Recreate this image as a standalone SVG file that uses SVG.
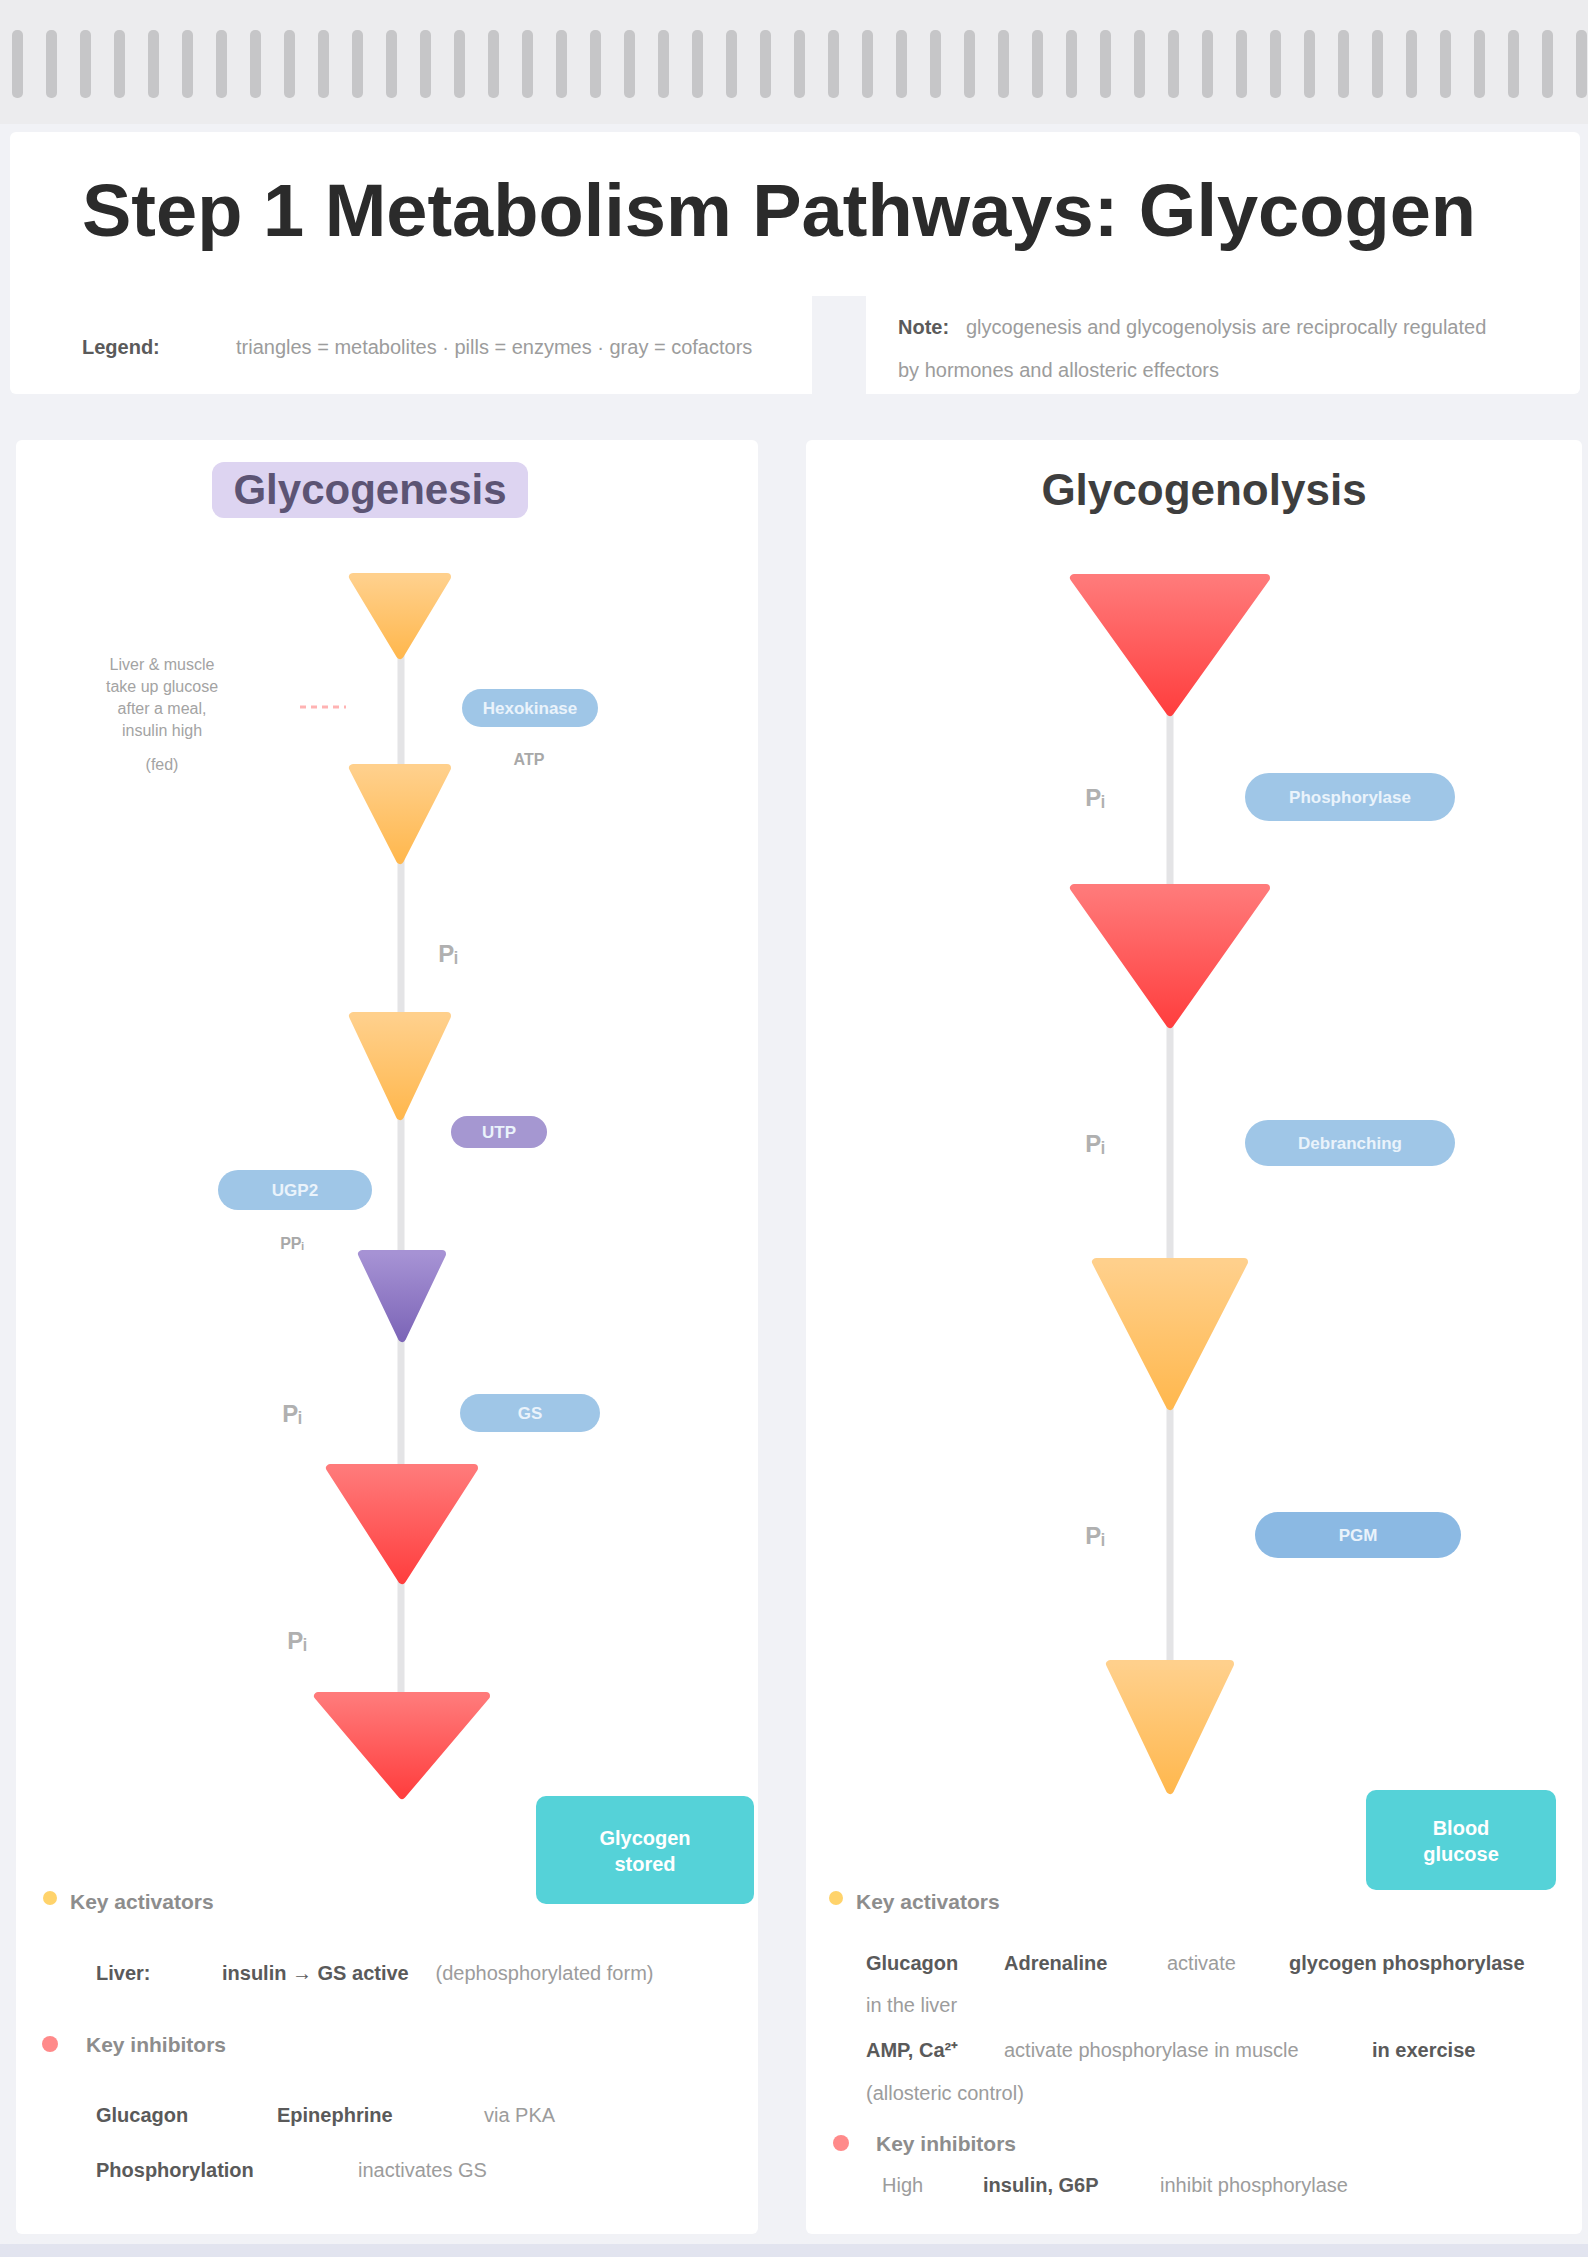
<svg xmlns="http://www.w3.org/2000/svg" width="1588" height="2257" viewBox="0 0 1588 2257">
<defs>
<style>
text{font-family:"Liberation Sans",Arial,sans-serif}
.card{fill:#ffffff}
.bar{fill:#c6c6c8}
.conn{stroke:#e4e4e6;stroke-width:7;fill:none;stroke-linecap:round}
.tri{stroke-linejoin:round;stroke-width:8}
.pill{fill:#9fc6e7}
.pilltxt{font-size:17px;font-weight:700;fill:#eaf3fb;text-anchor:middle}
.co{font-size:24px;font-weight:700;fill:#b0b0b0;text-anchor:middle}
.small{font-size:16px;font-weight:700;fill:#a8a8a8;text-anchor:middle}
.note{font-size:16px;fill:#a3a3a3;text-anchor:middle}
.lgh{font-size:21px;font-weight:700;fill:#8d8d8d}
.lb{font-size:20px;font-weight:700;fill:#5a5a5a}
.ll{font-size:20px;fill:#9c9c9c}
.teal{fill:#55d2d8}
.tealtxt{font-size:20px;font-weight:700;fill:#ffffff;text-anchor:middle}
</style>
<linearGradient id="gOr" x1="0" y1="0" x2="0" y2="1"><stop offset="0" stop-color="#ffd08c"/><stop offset="1" stop-color="#ffb84f"/></linearGradient>
<linearGradient id="gRd" x1="0" y1="0" x2="0" y2="1"><stop offset="0" stop-color="#ff7a7a"/><stop offset="1" stop-color="#ff3f3f"/></linearGradient>
<linearGradient id="gPu" x1="0" y1="0" x2="0" y2="1"><stop offset="0" stop-color="#a692d4"/><stop offset="1" stop-color="#7d66b8"/></linearGradient>
</defs>

<rect x="0" y="0" width="1588" height="2257" fill="#f1f2f6"/>
<rect x="0" y="2244" width="1588" height="13" fill="#e2e4ef"/>

<g id="binding">
<rect x="0" y="0" width="1588" height="124" fill="#ececee"/>
<g class="bar">
<rect x="12" y="30" width="11" height="68" rx="5"/><rect x="46" y="30" width="11" height="68" rx="5"/><rect x="80" y="30" width="11" height="68" rx="5"/><rect x="114" y="30" width="11" height="68" rx="5"/><rect x="148" y="30" width="11" height="68" rx="5"/><rect x="182" y="30" width="11" height="68" rx="5"/><rect x="216" y="30" width="11" height="68" rx="5"/><rect x="250" y="30" width="11" height="68" rx="5"/><rect x="284" y="30" width="11" height="68" rx="5"/><rect x="318" y="30" width="11" height="68" rx="5"/><rect x="352" y="30" width="11" height="68" rx="5"/><rect x="386" y="30" width="11" height="68" rx="5"/><rect x="420" y="30" width="11" height="68" rx="5"/><rect x="454" y="30" width="11" height="68" rx="5"/><rect x="488" y="30" width="11" height="68" rx="5"/><rect x="522" y="30" width="11" height="68" rx="5"/><rect x="556" y="30" width="11" height="68" rx="5"/><rect x="590" y="30" width="11" height="68" rx="5"/><rect x="624" y="30" width="11" height="68" rx="5"/><rect x="658" y="30" width="11" height="68" rx="5"/><rect x="692" y="30" width="11" height="68" rx="5"/><rect x="726" y="30" width="11" height="68" rx="5"/><rect x="760" y="30" width="11" height="68" rx="5"/><rect x="794" y="30" width="11" height="68" rx="5"/><rect x="828" y="30" width="11" height="68" rx="5"/><rect x="862" y="30" width="11" height="68" rx="5"/><rect x="896" y="30" width="11" height="68" rx="5"/><rect x="930" y="30" width="11" height="68" rx="5"/><rect x="964" y="30" width="11" height="68" rx="5"/><rect x="998" y="30" width="11" height="68" rx="5"/><rect x="1032" y="30" width="11" height="68" rx="5"/><rect x="1066" y="30" width="11" height="68" rx="5"/><rect x="1100" y="30" width="11" height="68" rx="5"/><rect x="1134" y="30" width="11" height="68" rx="5"/><rect x="1168" y="30" width="11" height="68" rx="5"/><rect x="1202" y="30" width="11" height="68" rx="5"/><rect x="1236" y="30" width="11" height="68" rx="5"/><rect x="1270" y="30" width="11" height="68" rx="5"/><rect x="1304" y="30" width="11" height="68" rx="5"/><rect x="1338" y="30" width="11" height="68" rx="5"/><rect x="1372" y="30" width="11" height="68" rx="5"/><rect x="1406" y="30" width="11" height="68" rx="5"/><rect x="1440" y="30" width="11" height="68" rx="5"/><rect x="1474" y="30" width="11" height="68" rx="5"/><rect x="1508" y="30" width="11" height="68" rx="5"/><rect x="1542" y="30" width="11" height="68" rx="5"/><rect x="1576" y="30" width="11" height="68" rx="5"/>
</g>
</g>

<g id="header">
<rect class="card" x="10" y="132" width="1570" height="262" rx="6"/>
<rect x="812" y="296" width="54" height="98" fill="#f1f2f6"/>
<text x="82" y="236" font-size="74" font-weight="700" fill="#2b2b2b">Step 1 Metabolism Pathways: Glycogen</text>
<text x="82" y="354"><tspan class="lb">Legend:</tspan><tspan class="ll" x="236">triangles = metabolites · pills = enzymes · gray = cofactors</tspan></text>
<text x="898" y="334"><tspan class="lb">Note:</tspan><tspan class="ll" x="966">glycogenesis and glycogenolysis are reciprocally regulated</tspan></text>
<text x="898" y="377" class="ll">by hormones and allosteric effectors</text>
</g>

<g id="columns">
<rect class="card" x="16" y="440" width="742" height="1794" rx="6"/>
<rect class="card" x="806" y="440" width="776" height="1794" rx="6"/>
</g>

<g id="connectors">
<line class="conn" x1="401" y1="655" x2="401" y2="1700"/>
<line class="conn" x1="1170" y1="712" x2="1170" y2="1668"/>
<line x1="300" y1="707" x2="346" y2="707" stroke="#ffb3b3" stroke-width="3" stroke-dasharray="6 5"/>
</g>

<g id="glycogenesis-header">
<rect x="212" y="462" width="316" height="56" rx="12" fill="#ddd4f1"/>
<text x="370" y="504" font-size="42" font-weight="700" fill="#5c5474" text-anchor="middle">Glycogenesis</text>
</g>

<g id="L-note">
<text class="note" x="162" y="670">Liver &amp; muscle</text>
<text class="note" x="162" y="692">take up glucose</text>
<text class="note" x="162" y="714">after a meal,</text>
<text class="note" x="162" y="736">insulin high</text>
<text class="note" x="162" y="770">(fed)</text>
</g>

<g id="L-T1"><polygon class="tri" points="353,577 447,577 400,655" fill="url(#gOr)" stroke="url(#gOr)"/></g>
<g id="L-E1"><rect class="pill" x="462" y="689" width="136" height="38" rx="19"/><text class="pilltxt" x="530" y="714">Hexokinase</text><text class="small" x="529" y="765">ATP</text></g>
<g id="L-T2"><polygon class="tri" points="353,768 447,768 400,860" fill="url(#gOr)" stroke="url(#gOr)"/></g>
<g id="L-C1"><text class="co" x="448" y="962">Pᵢ</text></g>
<g id="L-T3"><polygon class="tri" points="353,1016 447,1016 400,1116" fill="url(#gOr)" stroke="url(#gOr)"/></g>
<g id="L-P1"><rect x="451" y="1116" width="96" height="32" rx="16" fill="#a597d1"/><text class="pilltxt" x="499" y="1138" fill="#efeaff">UTP</text></g>
<g id="L-E2"><rect class="pill" x="218" y="1170" width="154" height="40" rx="20"/><text class="pilltxt" x="295" y="1196">UGP2</text><text class="small" x="292" y="1249">PPᵢ</text></g>
<g id="L-T4"><polygon class="tri" points="362,1254 442,1254 402,1338" fill="url(#gPu)" stroke="url(#gPu)"/></g>
<g id="L-C2"><text class="co" x="292" y="1422">Pᵢ</text></g>
<g id="L-E3"><rect class="pill" x="460" y="1394" width="140" height="38" rx="19"/><text class="pilltxt" x="530" y="1419">GS</text></g>
<g id="L-T5"><polygon class="tri" points="330,1468 474,1468 402,1580" fill="url(#gRd)" stroke="url(#gRd)"/></g>
<g id="L-C3"><text class="co" x="297" y="1649">Pᵢ</text></g>
<g id="L-T6"><polygon class="tri" points="318,1696 486,1696 402,1795" fill="url(#gRd)" stroke="url(#gRd)"/></g>
<g id="L-store"><rect class="teal" x="536" y="1796" width="218" height="108" rx="10"/><text class="tealtxt" x="645" y="1845">Glycogen</text><text class="tealtxt" x="645" y="1871">stored</text></g>

<g id="L-legend">
<circle cx="50" cy="1898" r="7" fill="#ffd36b"/>
<text class="lgh" x="70" y="1909">Key activators</text>
<text x="96" y="1980"><tspan class="lb">Liver:</tspan><tspan class="lb" x="222">insulin → GS active</tspan><tspan class="ll" x="430"> (dephosphorylated form)</tspan></text>
<circle cx="50" cy="2044" r="8" fill="#ff8a8a"/>
<text class="lgh" x="86" y="2052">Key inhibitors</text>
<text x="96" y="2122"><tspan class="lb">Glucagon</tspan><tspan class="lb" x="277">Epinephrine</tspan><tspan class="ll" x="484">via PKA</tspan></text>
<text x="96" y="2177"><tspan class="lb">Phosphorylation</tspan><tspan class="ll" x="358">inactivates GS</tspan></text>
</g>

<g id="glycogenolysis-header">
<text x="1204" y="505" font-size="44" font-weight="700" fill="#3e3e3e" text-anchor="middle">Glycogenolysis</text>
</g>

<g id="R-T1"><polygon class="tri" points="1074,578 1266,578 1170,712" fill="url(#gRd)" stroke="url(#gRd)"/></g>
<g id="R-C1"><text class="co" x="1095" y="806">Pᵢ</text></g>
<g id="R-E1"><rect class="pill" x="1245" y="773" width="210" height="48" rx="24"/><text class="pilltxt" x="1350" y="803">Phosphorylase</text></g>
<g id="R-T2"><polygon class="tri" points="1074,888 1266,888 1170,1024" fill="url(#gRd)" stroke="url(#gRd)"/></g>
<g id="R-C2"><text class="co" x="1095" y="1152">Pᵢ</text></g>
<g id="R-E2"><rect class="pill" x="1245" y="1120" width="210" height="46" rx="23"/><text class="pilltxt" x="1350" y="1149">Debranching</text></g>
<g id="R-T3"><polygon class="tri" points="1096,1262 1244,1262 1170,1406" fill="url(#gOr)" stroke="url(#gOr)"/></g>
<g id="R-C3"><text class="co" x="1095" y="1544">Pᵢ</text></g>
<g id="R-E3"><rect x="1255" y="1512" width="206" height="46" rx="23" fill="#8bb9e3"/><text class="pilltxt" x="1358" y="1541" fill="#ffffff">PGM</text></g>
<g id="R-T4"><polygon class="tri" points="1110,1664 1230,1664 1170,1790" fill="url(#gOr)" stroke="url(#gOr)"/></g>
<g id="R-out"><rect class="teal" x="1366" y="1790" width="190" height="100" rx="10"/><text class="tealtxt" x="1461" y="1835">Blood</text><text class="tealtxt" x="1461" y="1861">glucose</text></g>

<g id="R-legend">
<circle cx="836" cy="1898" r="7" fill="#ffd36b"/>
<text class="lgh" x="856" y="1909">Key activators</text>
<text x="866" y="1970"><tspan class="lb">Glucagon</tspan><tspan class="lb" x="1004">Adrenaline</tspan><tspan class="ll" x="1167">activate</tspan><tspan class="lb" x="1289">glycogen phosphorylase</tspan></text>
<text class="ll" x="866" y="2012">in the liver</text>
<text x="866" y="2057"><tspan class="lb">AMP, Ca²⁺</tspan><tspan class="ll" x="1004">activate phosphorylase in muscle</tspan><tspan class="lb" x="1372">in exercise</tspan></text>
<text class="ll" x="866" y="2100">(allosteric control)</text>
<circle cx="841" cy="2143" r="8" fill="#ff8a8a"/>
<text class="lgh" x="876" y="2151">Key inhibitors</text>
<text x="882" y="2192"><tspan class="ll">High</tspan><tspan class="lb" x="983">insulin, G6P</tspan><tspan class="ll" x="1160">inhibit phosphorylase</tspan></text>
</g>
</svg>
